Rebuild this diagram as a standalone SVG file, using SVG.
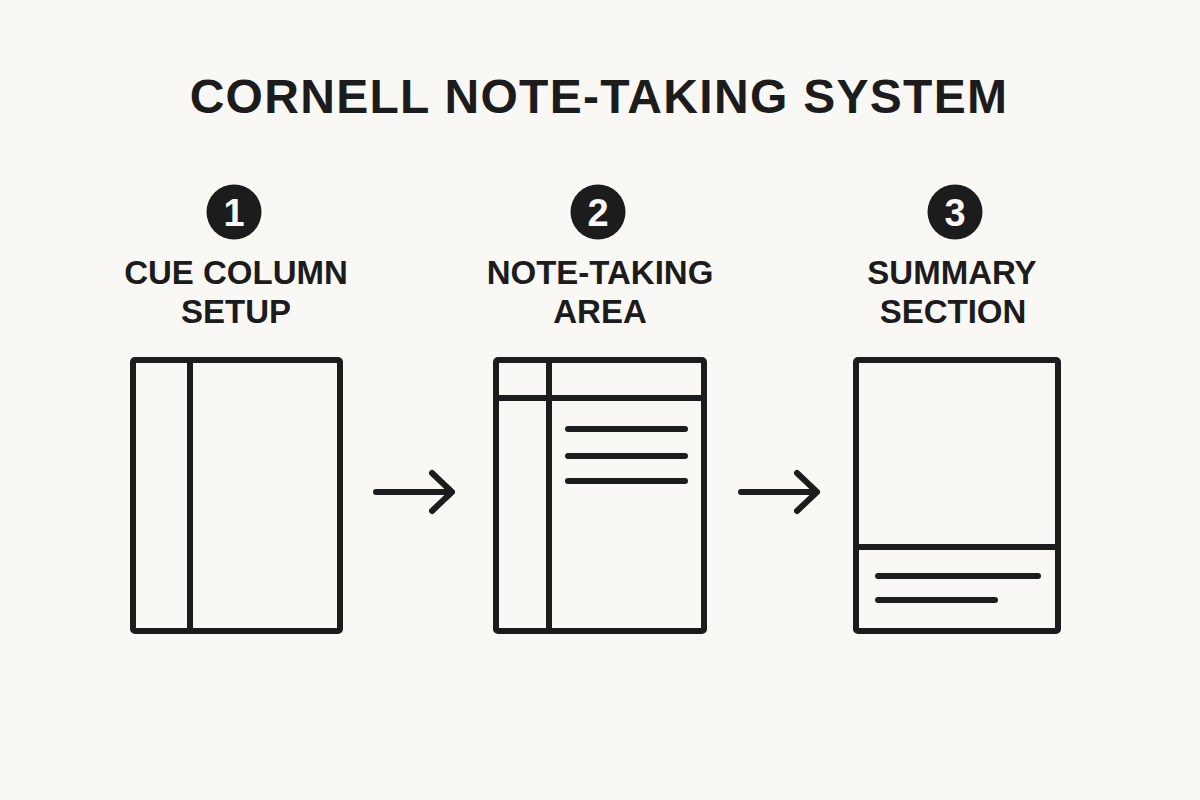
<svg xmlns="http://www.w3.org/2000/svg" width="1200" height="800" viewBox="0 0 1200 800">
<style>
.t{font-family:"Liberation Sans",Arial,sans-serif;font-weight:bold;fill:#1c1c1c;text-anchor:middle}
.s{fill:none;stroke:#1c1c1c;stroke-width:6;stroke-linecap:round;stroke-linejoin:round}
.n{font-family:"Liberation Sans",Arial,sans-serif;font-weight:bold;fill:#faf8f5;text-anchor:middle;font-size:38px}
</style>
<rect width="1200" height="800" fill="#faf8f5"/>
<text class="t" x="599" y="113" font-size="48" letter-spacing="1.3">CORNELL NOTE-TAKING SYSTEM</text>
<g id="step1">
<circle cx="234" cy="212" r="27.5" fill="#1c1c1c"/>
<text class="n" x="234" y="225.5">1</text>
<text class="t" x="236" y="284" font-size="33">CUE COLUMN</text>
<text class="t" x="236" y="323" font-size="33">SETUP</text>
<rect class="s" x="133" y="360" width="207" height="271" rx="2"/>
<line class="s" x1="190" y1="360" x2="190" y2="631"/>
</g>
<g id="step2">
<circle cx="598" cy="212" r="27.5" fill="#1c1c1c"/>
<text class="n" x="598" y="225.5">2</text>
<text class="t" x="600" y="284" font-size="33">NOTE-TAKING</text>
<text class="t" x="600" y="323" font-size="33">AREA</text>
<rect class="s" x="496" y="360" width="208" height="271" rx="2"/>
<line class="s" x1="549" y1="360" x2="549" y2="631"/>
<line class="s" x1="496" y1="398" x2="704" y2="398"/>
<line class="s" x1="568" y1="429" x2="685" y2="429"/>
<line class="s" x1="568" y1="456" x2="685" y2="456"/>
<line class="s" x1="568" y1="481" x2="685" y2="481"/>
</g>
<g id="step3">
<circle cx="955" cy="212" r="27.5" fill="#1c1c1c"/>
<text class="n" x="955" y="225.5">3</text>
<text class="t" x="952" y="284" font-size="33">SUMMARY</text>
<text class="t" x="953" y="323" font-size="33">SECTION</text>
<rect class="s" x="856" y="360" width="202" height="271" rx="2"/>
<line class="s" x1="856" y1="547" x2="1058" y2="547"/>
<line class="s" x1="878" y1="576" x2="1038" y2="576"/>
<line class="s" x1="878" y1="600" x2="995" y2="600"/>
</g>
<g id="connectors">
<path class="s" d="M376 492 H452 M432 473 L452 492 L432 511"/>
<path class="s" d="M741 492 H817 M797 473 L817 492 L797 511"/>
</g>
</svg>
